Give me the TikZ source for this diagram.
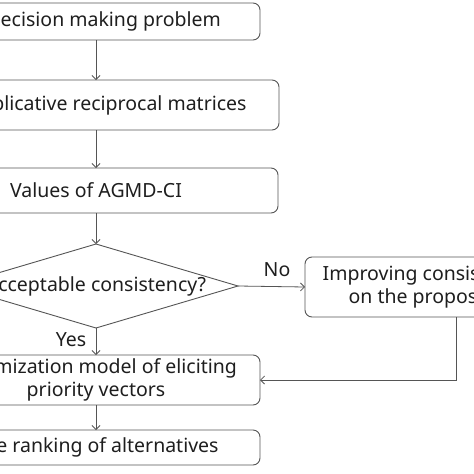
\documentclass[tikz,border=0pt]{standalone}
\usepackage{fontspec}
\setmainfont{Noto Sans}
\usetikzlibrary{arrows.meta,shapes.geometric}
\definecolor{Ink}{HTML}{1E1E1E}
\definecolor{Edge}{HTML}{555555}
\tikzset{
  stepbox/.style={draw=Edge,line width=0.9pt,rounded corners=7pt,align=center,text=Ink,inner sep=0pt,outer sep=0pt},
  decide/.style={diamond,draw=Edge,line width=0.9pt,inner sep=0pt,outer sep=0pt},
  arrow/.style={-{Straight Barb[length=4pt,width=8pt]},draw=Edge,line width=0.8pt},
  tag/.style={text=Ink,inner sep=0pt}
}
\begin{document}
\begin{tikzpicture}[x=1pt,y=-1pt,font=\fontsize{19.5}{23}\selectfont]
  \useasboundingbox[fill=white] (0,0) rectangle (474,474);
  \clip (0,0) rectangle (474,474);
  \node[stepbox,minimum width=328pt,minimum height=37pt] (problem) at (96,21.5) {A decision making problem};
  \node[stepbox,minimum width=366pt,minimum height=50pt] (matrices) at (96,105) {Multiplicative reciprocal matrices};
  \node[stepbox,minimum width=364pt,minimum height=45pt] (agmd) at (96,190.5) {Values of AGMD-CI};
  \node[decide,minimum width=284pt,minimum height=84pt] (check) at (96,286) {};
  \node[tag] at (check) {Acceptable consistency?};
  \node[stepbox,minimum width=302pt,minimum height=60pt] (improve) at (456,287) {Improving consistency based\\on the proposed model};
  \node[stepbox,minimum width=328pt,minimum height=50pt] (model) at (96,380) {Optimization model of eliciting\\priority vectors};
  \node[stepbox,minimum width=328pt,minimum height=35pt] (ranking) at (96,447.5) {The ranking of alternatives};
  \draw[arrow] (problem)--(matrices); \draw[arrow] (matrices)--(agmd); \draw[arrow] (agmd)--(check);
  \draw[arrow] (check)--(model); \draw[arrow] (model)--(ranking);
  \draw[arrow] (check.east)--(improve.west);
  \draw[arrow] (improve.south) |- (model.east);
  \node[tag] at (277,270) {No};
  \node[tag] at (71,340) {Yes};
\end{tikzpicture}
\end{document}
